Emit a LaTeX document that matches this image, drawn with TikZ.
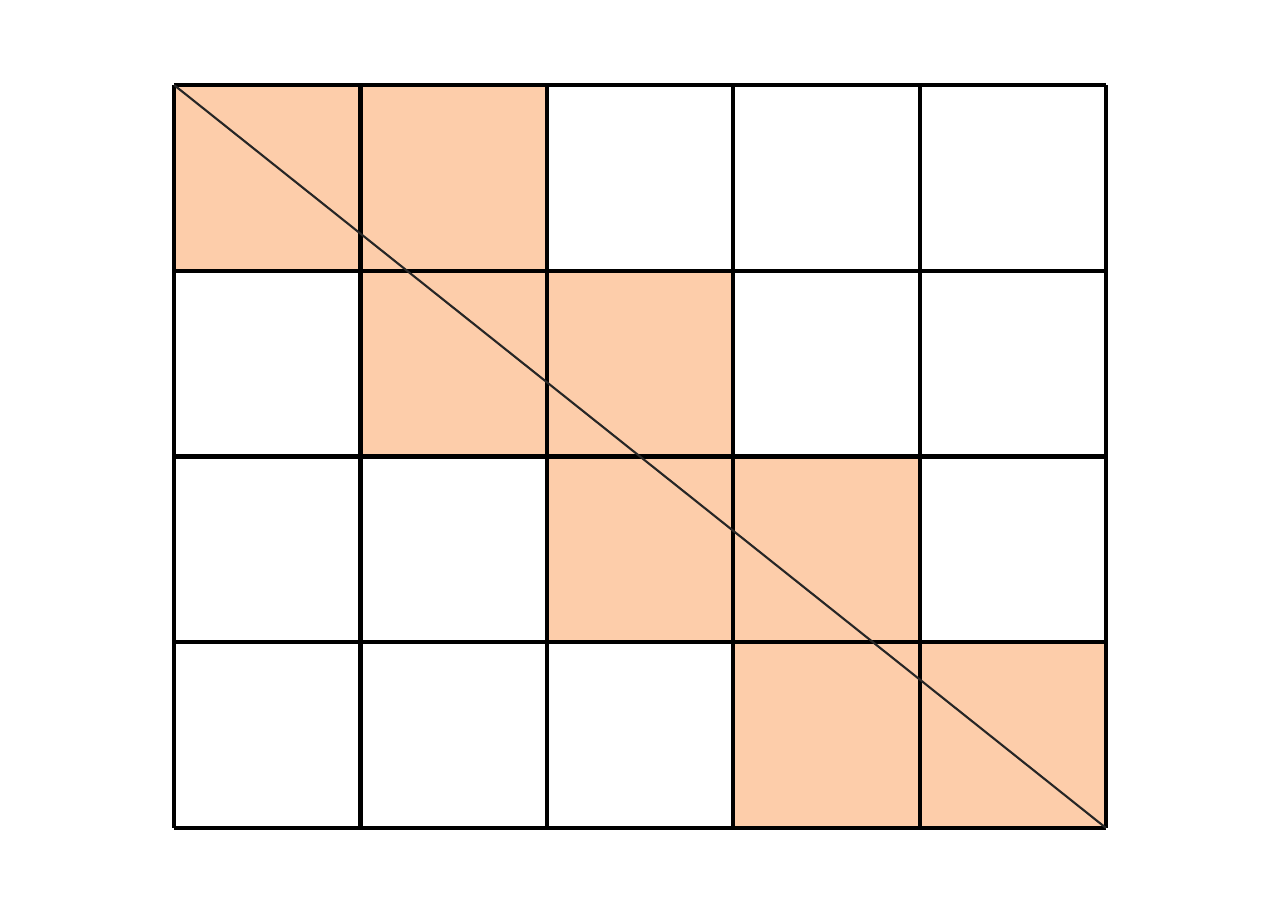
\documentclass[tikz,border=0pt]{standalone}
\usepackage{xcolor}
\usepackage{tikz}
\definecolor{peach}{HTML}{FDCDAA}

\begin{document}
\begin{tikzpicture}[x=3.728cm, y=3.715cm]
    \useasboundingbox (-0.9335, -0.463) rectangle (5.9335, 4.4576);

    \fill[peach] (0, 3) rectangle (2, 4);
    \fill[peach] (1, 2) rectangle (3, 3);
    \fill[peach] (2, 1) rectangle (4, 2);
    \fill[peach] (3, 0) rectangle (5, 1);

    \draw[line width=2.4pt, step={(1,1)}] (0, 0) grid (5, 4);

    \coordinate (tl) at (0, 4);
    \coordinate (br) at (5, 0);
    \draw[black!85, line width=1.2pt] (tl) -- (br);
  \end{tikzpicture}
\end{document}
